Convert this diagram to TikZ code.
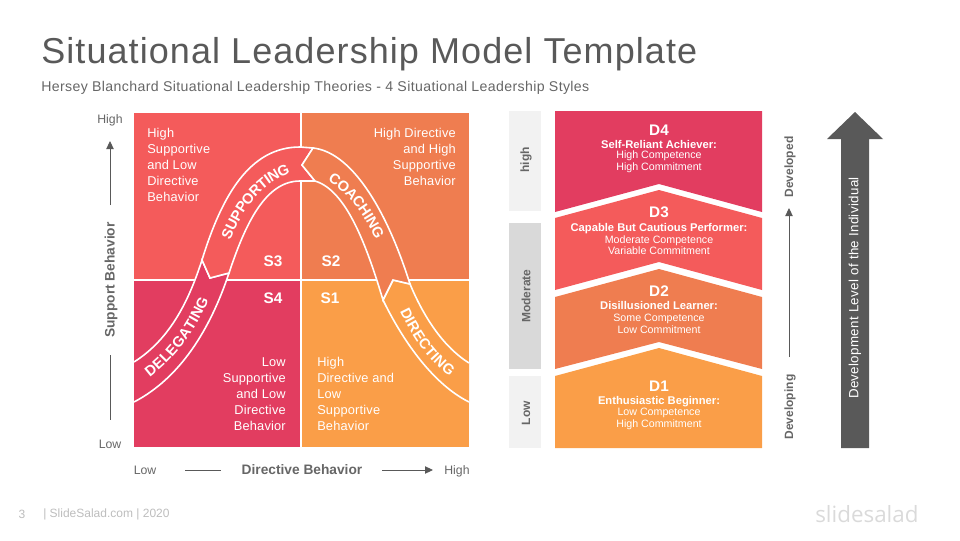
\documentclass[tikz,border=0pt]{standalone}
\usepackage{fontspec}
\usetikzlibrary{decorations.text,arrows.meta}
\setmainfont{Liberation Sans}
\newfontfamily\titlefont[LetterSpace=3]{Liberation Sans}
\newfontfamily\subfont[LetterSpace=2.6]{Liberation Sans}
\newfontfamily\quadfont[LetterSpace=1.5]{Liberation Sans}
\newfontfamily\ribbonfont[LetterSpace=3,BoldFont={Liberation Sans Bold}]{Liberation Sans}
\newfontfamily\logofont{Open Sans}
\definecolor{cSthree}{HTML}{F45B5B}
\definecolor{cStwo}{HTML}{EF7D50}
\definecolor{cSfour}{HTML}{E23D60}
\definecolor{cSone}{HTML}{FA9E48}
\definecolor{cDark}{HTML}{595959}
\definecolor{cLabel}{HTML}{666666}
\definecolor{cPale}{HTML}{F2F2F2}
\definecolor{cMid}{HTML}{D9D9D9}
\definecolor{cFoot}{HTML}{BDBDBD}
\definecolor{cLogo}{HTML}{DADADA}
\tikzset{
  ribbon/.style={draw=white,line width=1.2pt,line join=miter},
  qtext/.style={inner sep=0,text=white,font=\quadfont\fontsize{9.6}{12}\selectfont},
  sname/.style={inner sep=0,text=white,font=\fontsize{11.5}{12}\selectfont\bfseries},
  axis/.style={inner sep=0,text height=6.8pt,text depth=2pt,text=cLabel,font=\fontsize{9.2}{11}\selectfont},
  axisb/.style={inner sep=0,text height=7.5pt,text depth=2.2pt,text=cLabel,font=\fontsize{10.3}{12}\selectfont\bfseries},
  side/.style={inner sep=0,text=cLabel,rotate=90,font=\fontsize{9}{11}\selectfont\bfseries},
  dname/.style={inner sep=0,text=white,font=\fontsize{11.5}{12}\selectfont\bfseries},
  dhead/.style={inner sep=0,text height=6.2pt,text depth=1.8pt,text=white,font=\fontsize{8.4}{9}\selectfont\bfseries},
  dtext/.style={inner sep=0,text=white,align=center,font=\fontsize{8}{8.7}\selectfont},
  thin arrow/.style={draw=cDark,line width=0.7pt,-{Triangle[length=6pt,width=5.5pt]}},
  thin line/.style={draw=cDark,line width=0.7pt},
  curved/.style={decorate,decoration={text along path,text align=center,raise=-3.9pt,
     text color=white,text={|\ribbonfont\fontsize{11}{12}\selectfont\bfseries|#1}}}
}
\begin{document}
\begin{tikzpicture}[x=0.75pt,y=-0.75pt]
\useasboundingbox (0,0) rectangle (960,540);
% title
\node[anchor=west,inner sep=0,text=cDark,font=\titlefont\fontsize{27}{30}\selectfont] (title) at (41,54.5) {Situational Leadership Model Template};
\node[anchor=west,inner sep=0,text=cLabel,font=\subfont\fontsize{10.6}{12}\selectfont] (subtitle) at (41,88) {Hersey Blanchard Situational Leadership Theories - 4 Situational Leadership Styles};
% quadrants
\fill[cSthree] (134,113) rectangle (300,278.5);
\fill[cStwo]   (302,113) rectangle (469,278.5);
\fill[cSfour]  (134,280.5) rectangle (300,447);
\fill[cSone]   (302,280.5) rectangle (469,447);
% ribbons
\path[ribbon,fill=cSfour] (134,362) .. controls (172,338) and (190,297) .. (202,260) -- (210,278) -- (229,273) .. controls (210,330) and (180,378) .. (134,402);
\path[ribbon,fill=cSone] (469,363) .. controls (445,348) and (425,320) .. (410,284) -- (393,280) -- (383,300) .. controls (405,345) and (435,385) .. (469,402);
\path[ribbon,fill=cSthree] (202,260) .. controls (222,195) and (250,147) .. (300,147) -- (313,148) -- (302,165) -- (315,181) -- (300,181) .. controls (265,181) and (245,225) .. (229,273) -- (210,278) -- cycle;
\path[ribbon,fill=cStwo] (313,148) .. controls (350,152) and (385,205) .. (410,284) -- (393,280) -- (383,300) .. controls (365,240) and (345,190) .. (315,181) -- (302,165) -- cycle;
\path[curved={DELEGATING}] (118,391) .. controls (170,365) and (200,320) .. (215,266);
\path[curved={SUPPORTING}] (215,266) .. controls (235,205) and (262,164) .. (318,164);
\path[curved={COACHING}] (282,164) .. controls (345,164) and (378,215) .. (397,285);
\path[curved={DIRECTING}] (397,292) .. controls (415,335) and (435,365) .. (469,382);
% S labels
\node[sname] (s3) at (273,261) {S3};
\node[sname] (s2) at (331,261) {S2};
\node[sname] (s4) at (273,298) {S4};
\node[sname] (s1) at (330,298) {S1};
% quadrant texts
\node[qtext,anchor=west,align=left] (q3) at (147,165) {High\\Supportive\\and Low\\Directive\\Behavior};
\node[qtext,anchor=east,align=right] (q2) at (456,157) {High Directive\\and High\\Supportive\\Behavior};
\node[qtext,anchor=east,align=right] (q4) at (286,394) {Low\\Supportive\\and Low\\Directive\\Behavior};
\node[qtext,anchor=west,align=left] (q1) at (317,394) {High\\Directive and\\Low\\Supportive\\Behavior};
% axes
\node[axis] (yhigh) at (110,120.5) {High};
\node[axis] (ylow) at (110,445) {Low};
\node[axisb,rotate=90] (ylabel) at (111,280) {Support Behavior};
\coordinate (ya) at (110,205); \coordinate (yb) at (110,141);
\coordinate (yc) at (110,355); \coordinate (yd) at (110,420);
\draw[thin arrow] (ya) -- (yb);
\draw[thin line] (yc) -- (yd);
\node[axis] (xlow) at (145,471) {Low};
\node[axis] (xhigh) at (457,471) {High};
\node[axisb] (xlabel) at (302,471) {Directive Behavior};
\coordinate (xa) at (185,470); \coordinate (xb) at (221,470);
\coordinate (xc) at (382,470); \coordinate (xd) at (433,470);
\draw[thin line] (xa) -- (xb);
\draw[thin arrow] (xc) -- (xd);
% side bars
\fill[cPale] (509,111) rectangle (541,211);
\fill[cMid]  (509,223) rectangle (541,369);
\fill[cPale] (509,376) rectangle (541,448);
\node[side] (high) at (526,160) {high};
\node[side] (moderate) at (526,296) {Moderate};
\node[side] (low) at (526,413) {Low};
% chevrons
\fill[cSfour]  (555,111) -- (762,111) -- (762,212) -- (659,184) -- (555,212) -- cycle;
\fill[cSthree] (555,218) -- (659,190) -- (762,218) -- (762,290) -- (659,262) -- (555,290) -- cycle;
\fill[cStwo]   (555,297) -- (659,269) -- (762,297) -- (762,369) -- (659,342) -- (555,369) -- cycle;
\fill[cSone]   (555,376) -- (659,348) -- (762,376) -- (762,448) -- (555,448) -- cycle;
\node[dname] (d4) at (659,130) {D4};
\node[dhead] (d4h) at (659,145.5) {Self-Reliant Achiever:};
\node[dtext] (d4t) at (659,161.5) {High Competence\\High Commitment};
\node[dname] (d3) at (659,212) {D3};
\node[dhead] (d3h) at (659,228.5) {Capable But Cautious Performer:};
\node[dtext] (d3t) at (659,245) {Moderate Competence\\Variable Commitment};
\node[dname] (d2) at (659,291) {D2};
\node[dhead] (d2h) at (659,306.5) {Disillusioned Learner:};
\node[dtext] (d2t) at (659,324) {Some Competence\\Low Commitment};
\node[dname] (d1) at (659,386) {D1};
\node[dhead] (d1h) at (659,401.5) {Enthusiastic Beginner:};
\node[dtext] (d1t) at (659,419) {Low Competence\\High Commitment};
% development axis
\node[inner sep=0,text=cLabel,rotate=90,font=\fontsize{9}{11}\selectfont\bfseries] (developed) at (790,167) {Developed};
\node[inner sep=0,text=cLabel,rotate=90,font=\fontsize{9}{11}\selectfont\bfseries] (developing) at (790,407) {Developing};
\coordinate (da) at (789,357); \coordinate (db) at (789,208);
\draw[thin arrow] (da) -- (db);
\fill[cDark] (855,112) -- (883,139) -- (869,139) -- (869,448) -- (841,448) -- (841,139) -- (827,139) -- cycle;
\node[inner sep=0,text=white,rotate=90,font=\subfont\fontsize{10}{12}\selectfont] (devlevel) at (855,288) {Development Level of the Individual};
% footer
\node[inner sep=0,text=cFoot,font=\fontsize{9}{10}\selectfont] (page) at (22,514.5) {3};
\node[anchor=west,inner sep=0,text=cFoot,font=\fontsize{9}{10}\selectfont] (foot) at (43,514.5) {| SlideSalad.com | 2020};
\node[anchor=west,inner sep=0,text=cLogo,font=\logofont\fontsize{16.8}{20}\selectfont] (logo) at (815,514) {slidesalad};
\end{tikzpicture}
\end{document}
